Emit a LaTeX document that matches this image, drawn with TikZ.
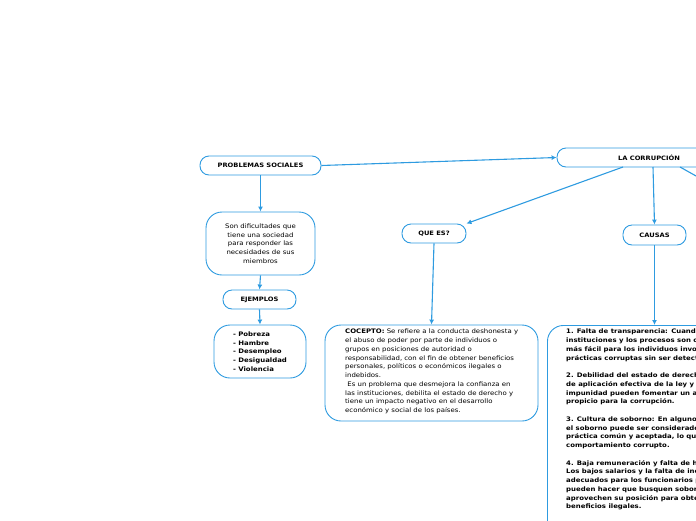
\documentclass[tikz,border=0pt]{standalone}
\usepackage{fontspec}
\setmainfont{DejaVu Sans}[FakeStretch=1.12]
\definecolor{lb}{HTML}{2E9BE0}
\begin{document}
\begin{tikzpicture}[x=1pt,y=-1pt,
  box/.style={draw=lb,line width=0.9pt,fill=white,rounded corners=9pt,inner sep=0pt,align=center},
  big/.style={box,rounded corners=16pt},
  lbl/.style={font=\fontsize{6}{7}\selectfont\bfseries},
  con/.style={draw=lb,line width=1.1pt,-{Latex[length=5pt,width=5pt]}}]
\usetikzlibrary{arrows.meta}
\useasboundingbox (0,0) rectangle (696,520);
\clip (0,0) rectangle (696,520);
\node[box,minimum width=121pt,minimum height=19pt,lbl] (ps) at (260.5,165.5) {PROBLEMAS SOCIALES};
\node[box,minimum width=184pt,minimum height=19pt] (lc) at (649,157.5) {};
\node[lbl] at (649,157.5) {LA CORRUPCIÓN};
\node[big,minimum width=109pt,minimum height=63pt,font=\fontsize{6.2}{8.6}\selectfont] (sd) at (260.5,243.5) {Son dificultades que\\tiene una sociedad\\para responder las\\necesidades de sus\\miembros};
\node[box,minimum width=73pt,minimum height=19pt,lbl] (ej) at (259.5,299.5) {EJEMPLOS};
\node[big,minimum width=92pt,minimum height=53pt,align=left,font=\fontsize{6.2}{8.6}\selectfont\bfseries] (li) at (260,351.5) {- Pobreza\\- Hambre\\- Desempleo\\- Desigualdad\\- Violencia};
\node[box,minimum width=64pt,minimum height=19pt,lbl] (qe) at (434,233.5) {QUE ES?};
\node[box,minimum width=63pt,minimum height=20pt,lbl] (ca) at (654.5,235) {CAUSAS};
\node[big,minimum width=213pt,minimum height=96pt] (co) at (431.5,373) {};
\node[anchor=north west,inner sep=0pt,align=left,font=\fontsize{6.2}{8.75}\selectfont] at (345,329) {\textbf{COCEPTO:} Se refiere a la conducta deshonesta y\\el abuso de poder por parte de individuos o\\grupos en posiciones de autoridad o\\responsabilidad, con el fin de obtener beneficios\\personales, políticos o económicos ilegales o\\indebidos.\\\ Es un problema que desmejora la confianza en\\las instituciones, debilita el estado de derecho y\\tiene un impacto negativo en el desarrollo\\económico y social de los países.};
\node[big,minimum width=213pt,minimum height=260pt,anchor=north west] (cs) at (547,325) {};
\node[anchor=north west,inner sep=0pt,align=left,font=\fontsize{6.2}{8.75}\selectfont\bfseries] at (566,329) {1. Falta de transparencia: Cuando las\\instituciones y los procesos son opacos, es\\más fácil para los individuos involucrarse en\\prácticas corruptas sin ser detectados.\\[8.75pt]2. Debilidad del estado de derecho: La falta\\de aplicación efectiva de la ley y la\\impunidad pueden fomentar un ambiente\\propicio para la corrupción.\\[8.75pt]3. Cultura de soborno: En algunos países,\\el soborno puede ser considerado una\\práctica común y aceptada, lo que fomenta el\\comportamiento corrupto.\\[8.75pt]4. Baja remuneración y falta de honestidad:\\Los bajos salarios y la falta de incentivos\\adecuados para los funcionarios públicos\\pueden hacer que busquen sobornos o\\aprovechen su posición para obtener\\beneficios ilegales.};
\coordinate (off) at (705,181);
\draw[con] (ps.east) -- (lc.west);
\draw[con] (ps.south) -- (sd.north);
\draw[con] (sd.south) -- (ej.north);
\draw[con] (ej.south) -- (li.north);
\draw[con] (623,167) -- (qe.north east);
\draw[con] (653,167) -- (ca.north);
\draw[con] (680,167) -- (off);
\draw[con] (qe.south) -- (co.north);
\draw[con] (ca.south) -- (654.5,325);
\end{tikzpicture}
\end{document}
